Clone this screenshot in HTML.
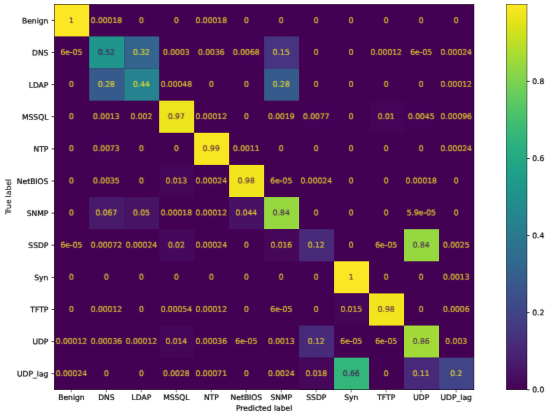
<!DOCTYPE html>
<html><head><meta charset="utf-8"><title>Confusion matrix</title>
<style>html,body{margin:0;padding:0;background:#fff;overflow:hidden}svg{display:block}text{font-kerning:normal;text-rendering:geometricPrecision;font-family:"DejaVu Sans","Liberation Sans",sans-serif;font-size:7.6px}</style></head><body>
<svg width="550" height="416" viewBox="0 0 550 416">
<rect width="550" height="416" fill="#fff"/>
<defs><linearGradient id="cb" x1="0" y1="1" x2="0" y2="0">
<stop offset="0.0000" stop-color="#440154"/>
<stop offset="0.0312" stop-color="#470d60"/>
<stop offset="0.0625" stop-color="#48186a"/>
<stop offset="0.0938" stop-color="#482374"/>
<stop offset="0.1250" stop-color="#472d7b"/>
<stop offset="0.1562" stop-color="#453781"/>
<stop offset="0.1875" stop-color="#424086"/>
<stop offset="0.2188" stop-color="#3e4989"/>
<stop offset="0.2500" stop-color="#3b528b"/>
<stop offset="0.2812" stop-color="#375b8d"/>
<stop offset="0.3125" stop-color="#33638d"/>
<stop offset="0.3438" stop-color="#2f6b8e"/>
<stop offset="0.3750" stop-color="#2c728e"/>
<stop offset="0.4062" stop-color="#297a8e"/>
<stop offset="0.4375" stop-color="#26828e"/>
<stop offset="0.4688" stop-color="#23898e"/>
<stop offset="0.5000" stop-color="#21918c"/>
<stop offset="0.5312" stop-color="#1f988b"/>
<stop offset="0.5625" stop-color="#1fa088"/>
<stop offset="0.5938" stop-color="#22a785"/>
<stop offset="0.6250" stop-color="#28ae80"/>
<stop offset="0.6562" stop-color="#32b67a"/>
<stop offset="0.6875" stop-color="#3fbc73"/>
<stop offset="0.7188" stop-color="#4ec36b"/>
<stop offset="0.7500" stop-color="#5ec962"/>
<stop offset="0.7812" stop-color="#70cf57"/>
<stop offset="0.8125" stop-color="#84d44b"/>
<stop offset="0.8438" stop-color="#98d83e"/>
<stop offset="0.8750" stop-color="#addc30"/>
<stop offset="0.9062" stop-color="#c2df23"/>
<stop offset="0.9375" stop-color="#d8e219"/>
<stop offset="0.9688" stop-color="#ece51b"/>
<stop offset="1.0000" stop-color="#fde725"/>
</linearGradient><filter id="bl" filterUnits="userSpaceOnUse" x="0" y="0" width="550" height="416"><feConvolveMatrix order="3" kernelMatrix="0.0104 0.0592 0.0104 0.1092 0.6216 0.1092 0.0104 0.0592 0.0104"/></filter><filter id="bl2" filterUnits="userSpaceOnUse" x="0" y="0" width="550" height="416"><feConvolveMatrix order="3" kernelMatrix="0.0054 0.0492 0.0054 0.0792 0.7216 0.0792 0.0054 0.0492 0.0054"/></filter></defs>
<rect x="54.20" y="4.30" width="419.80" height="385.50" fill="#440154"/>
<g>
<rect x="54.20" y="4.30" width="34.98" height="32.12" fill="#fde725"/>
<rect x="89.18" y="36.42" width="34.98" height="32.12" fill="#1f958b"/>
<rect x="124.17" y="36.42" width="34.98" height="32.12" fill="#32648e"/>
<rect x="229.12" y="36.42" width="34.98" height="32.12" fill="#440256"/>
<rect x="264.10" y="36.42" width="34.98" height="32.12" fill="#463480"/>
<rect x="89.18" y="68.55" width="34.98" height="32.12" fill="#375a8c"/>
<rect x="124.17" y="68.55" width="34.98" height="32.12" fill="#26828e"/>
<rect x="264.10" y="68.55" width="34.98" height="32.12" fill="#375a8c"/>
<rect x="159.15" y="100.67" width="34.98" height="32.12" fill="#ece51b"/>
<rect x="299.08" y="100.67" width="34.98" height="32.12" fill="#440256"/>
<rect x="369.05" y="100.67" width="34.98" height="32.12" fill="#450457"/>
<rect x="404.03" y="100.67" width="34.98" height="32.12" fill="#440256"/>
<rect x="89.18" y="132.80" width="34.98" height="32.12" fill="#440256"/>
<rect x="194.13" y="132.80" width="34.98" height="32.12" fill="#f8e621"/>
<rect x="159.15" y="164.93" width="34.98" height="32.12" fill="#450559"/>
<rect x="229.12" y="164.93" width="34.98" height="32.12" fill="#f1e51d"/>
<rect x="89.18" y="197.05" width="34.98" height="32.12" fill="#481a6c"/>
<rect x="124.17" y="197.05" width="34.98" height="32.12" fill="#471365"/>
<rect x="229.12" y="197.05" width="34.98" height="32.12" fill="#471164"/>
<rect x="264.10" y="197.05" width="34.98" height="32.12" fill="#95d840"/>
<rect x="159.15" y="229.18" width="34.98" height="32.12" fill="#46085c"/>
<rect x="264.10" y="229.18" width="34.98" height="32.12" fill="#46075a"/>
<rect x="299.08" y="229.18" width="34.98" height="32.12" fill="#472a7a"/>
<rect x="404.03" y="229.18" width="34.98" height="32.12" fill="#95d840"/>
<rect x="334.07" y="261.30" width="34.98" height="32.12" fill="#fde725"/>
<rect x="334.07" y="293.43" width="34.98" height="32.12" fill="#450559"/>
<rect x="369.05" y="293.43" width="34.98" height="32.12" fill="#f1e51d"/>
<rect x="159.15" y="325.55" width="34.98" height="32.12" fill="#450559"/>
<rect x="299.08" y="325.55" width="34.98" height="32.12" fill="#472a7a"/>
<rect x="404.03" y="325.55" width="34.98" height="32.12" fill="#a2da37"/>
<rect x="299.08" y="357.68" width="34.98" height="32.12" fill="#46075a"/>
<rect x="334.07" y="357.68" width="34.98" height="32.12" fill="#32b67a"/>
<rect x="404.03" y="357.68" width="34.98" height="32.12" fill="#482878"/>
<rect x="439.02" y="357.68" width="34.98" height="32.12" fill="#414487"/>
</g>
<g filter="url(#bl)" text-anchor="middle" opacity="0.9" stroke-width="0.1"><g transform="matrix(1 0.0005 0 1 0 0)">
<text x="71.39" y="22.93" fill="#440154" stroke="#440154">1</text>
<text x="106.38" y="22.91" fill="#fde725" stroke="#fde725">0.00018</text>
<text x="141.36" y="22.89" fill="#fde725" stroke="#fde725">0</text>
<text x="176.34" y="22.87" fill="#fde725" stroke="#fde725">0</text>
<text x="211.32" y="22.86" fill="#fde725" stroke="#fde725">0.00018</text>
<text x="246.31" y="22.84" fill="#fde725" stroke="#fde725">0</text>
<text x="281.29" y="22.82" fill="#fde725" stroke="#fde725">0</text>
<text x="316.27" y="22.80" fill="#fde725" stroke="#fde725">0</text>
<text x="351.26" y="22.79" fill="#fde725" stroke="#fde725">0</text>
<text x="386.24" y="22.77" fill="#fde725" stroke="#fde725">0</text>
<text x="421.22" y="22.75" fill="#fde725" stroke="#fde725">0</text>
<text x="456.21" y="22.73" fill="#fde725" stroke="#fde725">0</text>
<text x="71.39" y="54.65" fill="#fde725" stroke="#fde725">6e-05</text>
<text x="106.38" y="54.63" fill="#440154" stroke="#440154">0.52</text>
<text x="141.36" y="54.62" fill="#fde725" stroke="#fde725">0.32</text>
<text x="176.34" y="54.60" fill="#fde725" stroke="#fde725">0.0003</text>
<text x="211.32" y="54.58" fill="#fde725" stroke="#fde725">0.0036</text>
<text x="246.31" y="54.56" fill="#fde725" stroke="#fde725">0.0068</text>
<text x="281.29" y="54.55" fill="#fde725" stroke="#fde725">0.15</text>
<text x="316.27" y="54.53" fill="#fde725" stroke="#fde725">0</text>
<text x="351.26" y="54.51" fill="#fde725" stroke="#fde725">0</text>
<text x="386.24" y="54.49" fill="#fde725" stroke="#fde725">0.00012</text>
<text x="421.22" y="54.48" fill="#fde725" stroke="#fde725">6e-05</text>
<text x="456.21" y="54.46" fill="#fde725" stroke="#fde725">0.00024</text>
<text x="71.39" y="86.78" fill="#fde725" stroke="#fde725">0</text>
<text x="106.38" y="86.76" fill="#fde725" stroke="#fde725">0.28</text>
<text x="141.36" y="86.74" fill="#fde725" stroke="#fde725">0.44</text>
<text x="176.34" y="86.72" fill="#fde725" stroke="#fde725">0.00048</text>
<text x="211.32" y="86.71" fill="#fde725" stroke="#fde725">0</text>
<text x="246.31" y="86.69" fill="#fde725" stroke="#fde725">0</text>
<text x="281.29" y="86.67" fill="#fde725" stroke="#fde725">0.28</text>
<text x="316.27" y="86.65" fill="#fde725" stroke="#fde725">0</text>
<text x="351.26" y="86.64" fill="#fde725" stroke="#fde725">0</text>
<text x="386.24" y="86.62" fill="#fde725" stroke="#fde725">0</text>
<text x="421.22" y="86.60" fill="#fde725" stroke="#fde725">0</text>
<text x="456.21" y="86.58" fill="#fde725" stroke="#fde725">0.00012</text>
<text x="71.39" y="118.90" fill="#fde725" stroke="#fde725">0</text>
<text x="106.38" y="118.88" fill="#fde725" stroke="#fde725">0.0013</text>
<text x="141.36" y="118.87" fill="#fde725" stroke="#fde725">0.002</text>
<text x="176.34" y="118.85" fill="#440154" stroke="#440154">0.97</text>
<text x="211.32" y="118.83" fill="#fde725" stroke="#fde725">0.00012</text>
<text x="246.31" y="118.81" fill="#fde725" stroke="#fde725">0</text>
<text x="281.29" y="118.80" fill="#fde725" stroke="#fde725">0.0019</text>
<text x="316.27" y="118.78" fill="#fde725" stroke="#fde725">0.0077</text>
<text x="351.26" y="118.76" fill="#fde725" stroke="#fde725">0</text>
<text x="386.24" y="118.74" fill="#fde725" stroke="#fde725">0.01</text>
<text x="421.22" y="118.73" fill="#fde725" stroke="#fde725">0.0045</text>
<text x="456.21" y="118.71" fill="#fde725" stroke="#fde725">0.00096</text>
<text x="71.39" y="151.03" fill="#fde725" stroke="#fde725">0</text>
<text x="106.38" y="151.01" fill="#fde725" stroke="#fde725">0.0073</text>
<text x="141.36" y="150.99" fill="#fde725" stroke="#fde725">0</text>
<text x="176.34" y="150.97" fill="#fde725" stroke="#fde725">0</text>
<text x="211.32" y="150.96" fill="#440154" stroke="#440154">0.99</text>
<text x="246.31" y="150.94" fill="#fde725" stroke="#fde725">0.0011</text>
<text x="281.29" y="150.92" fill="#fde725" stroke="#fde725">0</text>
<text x="316.27" y="150.90" fill="#fde725" stroke="#fde725">0</text>
<text x="351.26" y="150.89" fill="#fde725" stroke="#fde725">0</text>
<text x="386.24" y="150.87" fill="#fde725" stroke="#fde725">0</text>
<text x="421.22" y="150.85" fill="#fde725" stroke="#fde725">0</text>
<text x="456.21" y="150.83" fill="#fde725" stroke="#fde725">0.00024</text>
<text x="71.39" y="183.15" fill="#fde725" stroke="#fde725">0</text>
<text x="106.38" y="183.13" fill="#fde725" stroke="#fde725">0.0035</text>
<text x="141.36" y="183.12" fill="#fde725" stroke="#fde725">0</text>
<text x="176.34" y="183.10" fill="#fde725" stroke="#fde725">0.013</text>
<text x="211.32" y="183.08" fill="#fde725" stroke="#fde725">0.00024</text>
<text x="246.31" y="183.06" fill="#440154" stroke="#440154">0.98</text>
<text x="281.29" y="183.05" fill="#fde725" stroke="#fde725">6e-05</text>
<text x="316.27" y="183.03" fill="#fde725" stroke="#fde725">0.00024</text>
<text x="351.26" y="183.01" fill="#fde725" stroke="#fde725">0</text>
<text x="386.24" y="182.99" fill="#fde725" stroke="#fde725">0</text>
<text x="421.22" y="182.98" fill="#fde725" stroke="#fde725">0.00018</text>
<text x="456.21" y="182.96" fill="#fde725" stroke="#fde725">0</text>
<text x="71.39" y="215.28" fill="#fde725" stroke="#fde725">0</text>
<text x="106.38" y="215.26" fill="#fde725" stroke="#fde725">0.067</text>
<text x="141.36" y="215.24" fill="#fde725" stroke="#fde725">0.05</text>
<text x="176.34" y="215.22" fill="#fde725" stroke="#fde725">0.00018</text>
<text x="211.32" y="215.21" fill="#fde725" stroke="#fde725">0.00012</text>
<text x="246.31" y="215.19" fill="#fde725" stroke="#fde725">0.044</text>
<text x="281.29" y="215.17" fill="#440154" stroke="#440154">0.84</text>
<text x="316.27" y="215.15" fill="#fde725" stroke="#fde725">0</text>
<text x="351.26" y="215.14" fill="#fde725" stroke="#fde725">0</text>
<text x="386.24" y="215.12" fill="#fde725" stroke="#fde725">0</text>
<text x="421.22" y="215.10" fill="#fde725" stroke="#fde725">5.9e-05</text>
<text x="456.21" y="215.08" fill="#fde725" stroke="#fde725">0</text>
<text x="71.39" y="247.40" fill="#fde725" stroke="#fde725">6e-05</text>
<text x="106.38" y="247.38" fill="#fde725" stroke="#fde725">0.00072</text>
<text x="141.36" y="247.37" fill="#fde725" stroke="#fde725">0.00024</text>
<text x="176.34" y="247.35" fill="#fde725" stroke="#fde725">0.02</text>
<text x="211.32" y="247.33" fill="#fde725" stroke="#fde725">0.00024</text>
<text x="246.31" y="247.31" fill="#fde725" stroke="#fde725">0</text>
<text x="281.29" y="247.30" fill="#fde725" stroke="#fde725">0.016</text>
<text x="316.27" y="247.28" fill="#fde725" stroke="#fde725">0.12</text>
<text x="351.26" y="247.26" fill="#fde725" stroke="#fde725">0</text>
<text x="386.24" y="247.24" fill="#fde725" stroke="#fde725">6e-05</text>
<text x="421.22" y="247.23" fill="#440154" stroke="#440154">0.84</text>
<text x="456.21" y="247.21" fill="#fde725" stroke="#fde725">0.0025</text>
<text x="71.39" y="279.53" fill="#fde725" stroke="#fde725">0</text>
<text x="106.38" y="279.51" fill="#fde725" stroke="#fde725">0</text>
<text x="141.36" y="279.49" fill="#fde725" stroke="#fde725">0</text>
<text x="176.34" y="279.47" fill="#fde725" stroke="#fde725">0</text>
<text x="211.32" y="279.46" fill="#fde725" stroke="#fde725">0</text>
<text x="246.31" y="279.44" fill="#fde725" stroke="#fde725">0</text>
<text x="281.29" y="279.42" fill="#fde725" stroke="#fde725">0</text>
<text x="316.27" y="279.40" fill="#fde725" stroke="#fde725">0</text>
<text x="351.26" y="279.39" fill="#440154" stroke="#440154">1</text>
<text x="386.24" y="279.37" fill="#fde725" stroke="#fde725">0</text>
<text x="421.22" y="279.35" fill="#fde725" stroke="#fde725">0</text>
<text x="456.21" y="279.33" fill="#fde725" stroke="#fde725">0.0013</text>
<text x="71.39" y="311.65" fill="#fde725" stroke="#fde725">0</text>
<text x="106.38" y="311.63" fill="#fde725" stroke="#fde725">0.00012</text>
<text x="141.36" y="311.62" fill="#fde725" stroke="#fde725">0</text>
<text x="176.34" y="311.60" fill="#fde725" stroke="#fde725">0.00054</text>
<text x="211.32" y="311.58" fill="#fde725" stroke="#fde725">0.00012</text>
<text x="246.31" y="311.56" fill="#fde725" stroke="#fde725">0</text>
<text x="281.29" y="311.55" fill="#fde725" stroke="#fde725">6e-05</text>
<text x="316.27" y="311.53" fill="#fde725" stroke="#fde725">0</text>
<text x="351.26" y="311.51" fill="#fde725" stroke="#fde725">0.015</text>
<text x="386.24" y="311.49" fill="#440154" stroke="#440154">0.98</text>
<text x="421.22" y="311.48" fill="#fde725" stroke="#fde725">0</text>
<text x="456.21" y="311.46" fill="#fde725" stroke="#fde725">0.0006</text>
<text x="71.39" y="343.78" fill="#fde725" stroke="#fde725">0.00012</text>
<text x="106.38" y="343.76" fill="#fde725" stroke="#fde725">0.00036</text>
<text x="141.36" y="343.74" fill="#fde725" stroke="#fde725">0.00012</text>
<text x="176.34" y="343.72" fill="#fde725" stroke="#fde725">0.014</text>
<text x="211.32" y="343.71" fill="#fde725" stroke="#fde725">0.00036</text>
<text x="246.31" y="343.69" fill="#fde725" stroke="#fde725">6e-05</text>
<text x="281.29" y="343.67" fill="#fde725" stroke="#fde725">0.0013</text>
<text x="316.27" y="343.65" fill="#fde725" stroke="#fde725">0.12</text>
<text x="351.26" y="343.64" fill="#fde725" stroke="#fde725">6e-05</text>
<text x="386.24" y="343.62" fill="#fde725" stroke="#fde725">6e-05</text>
<text x="421.22" y="343.60" fill="#440154" stroke="#440154">0.86</text>
<text x="456.21" y="343.58" fill="#fde725" stroke="#fde725">0.003</text>
<text x="71.39" y="375.90" fill="#fde725" stroke="#fde725">0.00024</text>
<text x="106.38" y="375.88" fill="#fde725" stroke="#fde725">0</text>
<text x="141.36" y="375.87" fill="#fde725" stroke="#fde725">0</text>
<text x="176.34" y="375.85" fill="#fde725" stroke="#fde725">0.0028</text>
<text x="211.32" y="375.83" fill="#fde725" stroke="#fde725">0.00071</text>
<text x="246.31" y="375.81" fill="#fde725" stroke="#fde725">0</text>
<text x="281.29" y="375.80" fill="#fde725" stroke="#fde725">0.0024</text>
<text x="316.27" y="375.78" fill="#fde725" stroke="#fde725">0.018</text>
<text x="351.26" y="375.76" fill="#440154" stroke="#440154">0.66</text>
<text x="386.24" y="375.74" fill="#fde725" stroke="#fde725">0</text>
<text x="421.22" y="375.73" fill="#fde725" stroke="#fde725">0.11</text>
<text x="456.21" y="375.71" fill="#fde725" stroke="#fde725">0.2</text>
</g></g>
<rect x="54.20" y="4.30" width="419.80" height="385.50" fill="none" stroke="#000" stroke-width="0.43"/>
<g stroke="#000" stroke-width="0.75">
<line x1="51.60" y1="20.36" x2="54.20" y2="20.36"/>
<line stroke-width="0.5" x1="71.29" y1="389.80" x2="71.29" y2="392.40"/>
<line x1="51.60" y1="52.49" x2="54.20" y2="52.49"/>
<line stroke-width="0.5" x1="106.28" y1="389.80" x2="106.28" y2="392.40"/>
<line x1="51.60" y1="84.61" x2="54.20" y2="84.61"/>
<line stroke-width="0.5" x1="141.26" y1="389.80" x2="141.26" y2="392.40"/>
<line x1="51.60" y1="116.74" x2="54.20" y2="116.74"/>
<line stroke-width="0.5" x1="176.24" y1="389.80" x2="176.24" y2="392.40"/>
<line x1="51.60" y1="148.86" x2="54.20" y2="148.86"/>
<line stroke-width="0.5" x1="211.22" y1="389.80" x2="211.22" y2="392.40"/>
<line x1="51.60" y1="180.99" x2="54.20" y2="180.99"/>
<line stroke-width="0.5" x1="246.21" y1="389.80" x2="246.21" y2="392.40"/>
<line x1="51.60" y1="213.11" x2="54.20" y2="213.11"/>
<line stroke-width="0.5" x1="281.19" y1="389.80" x2="281.19" y2="392.40"/>
<line x1="51.60" y1="245.24" x2="54.20" y2="245.24"/>
<line stroke-width="0.5" x1="316.18" y1="389.80" x2="316.18" y2="392.40"/>
<line x1="51.60" y1="277.36" x2="54.20" y2="277.36"/>
<line stroke-width="0.5" x1="351.16" y1="389.80" x2="351.16" y2="392.40"/>
<line x1="51.60" y1="309.49" x2="54.20" y2="309.49"/>
<line stroke-width="0.5" x1="386.14" y1="389.80" x2="386.14" y2="392.40"/>
<line x1="51.60" y1="341.61" x2="54.20" y2="341.61"/>
<line stroke-width="0.5" x1="421.12" y1="389.80" x2="421.12" y2="392.40"/>
<line x1="51.60" y1="373.74" x2="54.20" y2="373.74"/>
<line stroke-width="0.5" x1="456.11" y1="389.80" x2="456.11" y2="392.40"/>
</g>
<g filter="url(#bl2)" fill="#000" stroke="#000" stroke-width="0.2"><g transform="matrix(1 0.0005 0 1 0 0)">
<text x="48.40" y="23.49" text-anchor="end">Benign</text>
<text x="71.44" y="400.01" text-anchor="middle">Benign</text>
<text x="48.40" y="55.57" text-anchor="end">DNS</text>
<text x="106.43" y="400.00" text-anchor="middle">DNS</text>
<text x="48.40" y="87.66" text-anchor="end">LDAP</text>
<text x="141.41" y="399.98" text-anchor="middle">LDAP</text>
<text x="48.40" y="119.74" text-anchor="end">MSSQL</text>
<text x="176.39" y="399.96" text-anchor="middle">MSSQL</text>
<text x="48.40" y="151.83" text-anchor="end">NTP</text>
<text x="211.38" y="399.94" text-anchor="middle">NTP</text>
<text x="48.40" y="183.91" text-anchor="end">NetBIOS</text>
<text x="246.36" y="399.93" text-anchor="middle">NetBIOS</text>
<text x="48.40" y="216.00" text-anchor="end">SNMP</text>
<text x="281.34" y="399.91" text-anchor="middle">SNMP</text>
<text x="48.40" y="248.08" text-anchor="end">SSDP</text>
<text x="316.32" y="399.89" text-anchor="middle">SSDP</text>
<text x="48.40" y="280.17" text-anchor="end">Syn</text>
<text x="351.31" y="399.87" text-anchor="middle">Syn</text>
<text x="48.40" y="312.25" text-anchor="end">TFTP</text>
<text x="386.29" y="399.86" text-anchor="middle">TFTP</text>
<text x="48.40" y="344.34" text-anchor="end">UDP</text>
<text x="421.27" y="399.84" text-anchor="middle">UDP</text>
<text x="48.40" y="376.42" text-anchor="end">UDP_lag</text>
<text x="456.26" y="399.82" text-anchor="middle">UDP_lag</text>
<text x="264.10" y="410.57" text-anchor="middle">Predicted label</text>
</g><text transform="translate(11.20 196.75) rotate(-90)" text-anchor="middle" stroke-width="0.08" dx="0 -1.1 0 0 -0.4">True label</text>
</g>
<rect x="506.30" y="4.30" width="20.70" height="385.50" fill="url(#cb)" stroke="#000" stroke-width="0.43"/>
<g stroke="#000" stroke-width="0.75">
<line x1="527.00" y1="389.80" x2="529.60" y2="389.80"/>
<line x1="527.00" y1="312.70" x2="529.60" y2="312.70"/>
<line x1="527.00" y1="235.60" x2="529.60" y2="235.60"/>
<line x1="527.00" y1="158.50" x2="529.60" y2="158.50"/>
<line x1="527.00" y1="81.40" x2="529.60" y2="81.40"/>
</g><g filter="url(#bl2)" fill="#000" stroke="#000" stroke-width="0.2"><g transform="matrix(1 0.0005 0 1 0 0)">
<text x="532.20" y="392.08">0.0</text>
<text x="532.20" y="314.98">0.2</text>
<text x="532.20" y="237.88">0.4</text>
<text x="532.20" y="160.78">0.6</text>
<text x="532.20" y="83.68">0.8</text>
</g></g>
</svg></body></html>
